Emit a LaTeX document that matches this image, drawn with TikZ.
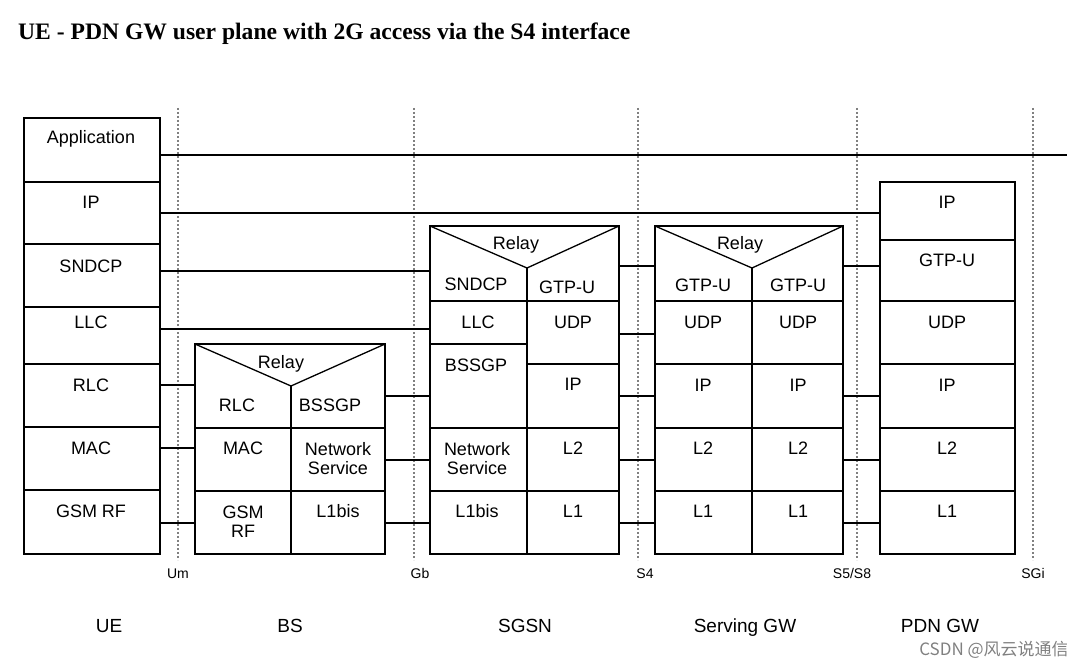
\documentclass[tikz,border=0pt]{standalone}
\usepackage{fontspec}
\setmainfont{Liberation Sans}
\newfontfamily\titlefont{Liberation Serif}
\newfontfamily\cjk{Noto Sans CJK SC}
\begin{document}
\begin{tikzpicture}[x=1pt,y=-1pt,
  box/.style={draw,line width=1.3pt},
  lay/.style={line width=1.3pt},
  ifl/.style={gray,dotted,line width=2pt},
  t/.style={font=\fontsize{18}{19}\selectfont,align=center,inner sep=0pt},
  il/.style={font=\fontsize{14}{15}\selectfont,inner sep=0pt,anchor=base},
  ent/.style={font=\fontsize{19}{20}\selectfont,inner sep=0pt,anchor=base}]
\useasboundingbox (0,0) rectangle (1067,666);
\node[anchor=west,inner sep=0pt,font=\titlefont\bfseries\fontsize{23.6}{25}\selectfont] (title) at (18,34) {UE - PDN GW user plane with 2G access via the S4 interface};
% interfaces
\foreach \x/\n/\lx in {178/Um/178,414/Gb/420,638/S4/645,857/S5\slash S8/852,1033/SGi/1033}{
  \draw[ifl] (\x,108) -- (\x,560);
  \node[il] at (\lx,578) {\n};
}
% layer connections
\draw[lay] (160,155) -- (1067,155);
\draw[lay] (160,213) -- (880,213);
\draw[lay] (160,271) -- (430,271);
\draw[lay] (160,329) -- (430,329);
\foreach \y in {385,448,523}{\draw[lay] (160,\y) -- (195,\y);}
\foreach \y in {396,460,523}{\draw[lay] (385,\y) -- (430,\y);}
\foreach \y in {266,334,396,460,523}{\draw[lay] (619,\y) -- (655,\y);}
\foreach \y in {266,396,460,523}{\draw[lay] (843,\y) -- (880,\y);}
% UE
\draw[box,fill=white] (24,118) rectangle (160,554);
\foreach \y in {182,244,307,364,427,490}{\draw[lay] (24,\y) -- (160,\y);}
\foreach \y/\s in {139/Application,202/IP,266/SNDCP,322/LLC,385/RLC,448/MAC,511/GSM RF}{\node[t] at (91,\y) {\s};}
% BS
\draw[box,fill=white] (195,344) rectangle (385,554);
\draw[lay] (195,344) -- (291,386) -- (385,344);
\draw[lay] (291,386) -- (291,554);
\draw[lay] (195,428) -- (385,428);
\draw[lay] (195,491) -- (385,491);
\node[t] at (281,364) {Relay};
\node[t] at (237,405) {RLC};
\node[t] at (330,405) {BSSGP};
\node[t] at (243,448) {MAC};
\node[t] at (338,459) {Network\\Service};
\node[t] at (243,522) {GSM\\RF};
\node[t] at (338,511) {L1bis};
% SGSN
\draw[box,fill=white] (430,226) rectangle (619,554);
\draw[lay] (430,226) -- (527,268) -- (619,226);
\draw[lay] (527,268) -- (527,554);
\foreach \y in {301,344}{\draw[lay] (430,\y) -- (527,\y);}
\foreach \y in {301,364}{\draw[lay] (527,\y) -- (619,\y);}
\draw[lay] (430,428) -- (619,428);
\draw[lay] (430,491) -- (619,491);
\node[t] at (516,245) {Relay};
\node[t] at (476,284) {SNDCP};
\node[t] at (567,287) {GTP-U};
\node[t] at (478,322) {LLC};
\node[t] at (573,322) {UDP};
\node[t] at (476,365) {BSSGP};
\node[t] at (573,384) {IP};
\node[t] at (477,459) {Network\\Service};
\node[t] at (573,448) {L2};
\node[t] at (477,511) {L1bis};
\node[t] at (573,511) {L1};
% SGW
\draw[box,fill=white] (655,226) rectangle (843,554);
\draw[lay] (655,226) -- (752,268) -- (843,226);
\draw[lay] (752,268) -- (752,554);
\foreach \y in {301,364,428,491}{\draw[lay] (655,\y) -- (843,\y);}
\node[t] at (740,245) {Relay};
\foreach \y/\s in {285/GTP-U,322/UDP,385/IP,448/L2,511/L1}{
  \node[t] at (703,\y) {\s}; \node[t] at (798,\y) {\s};}
% PDN GW
\draw[box,fill=white] (880,182) rectangle (1015,554);
\foreach \y in {240,301,364,428,491}{\draw[lay] (880,\y) -- (1015,\y);}
\foreach \y/\s in {202/IP,260/GTP-U,322/UDP,385/IP,448/L2,511/L1}{\node[t] at (947,\y) {\s};}
% entity labels
\foreach \x/\s in {109/UE,290/BS,525/SGSN,745/Serving GW,940/PDN GW}{\node[ent] at (\x,632) {\s};}
\node[font=\cjk\fontsize{17}{18}\selectfont,text=gray,inner sep=0pt] at (994,650) {CSDN @风云说通信};
\end{tikzpicture}
\end{document}
